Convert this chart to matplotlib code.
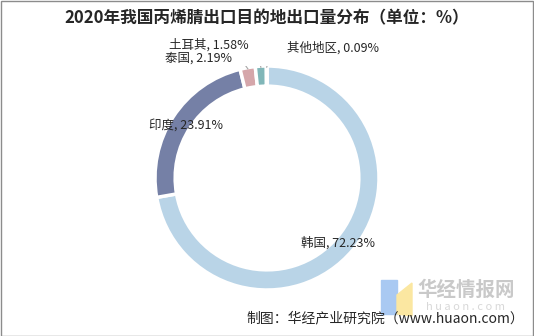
import numpy as np
import matplotlib.pyplot as plt
from matplotlib.patches import Rectangle, Polygon

plt.rcParams['font.family'] = ['Noto Sans CJK SC', 'DejaVu Sans']

# data
countries = ['韩国', '印度', '泰国', '土耳其', '其他地区']
shares = [72.23, 23.91, 2.19, 1.58, 0.09]
colors = ['#b9d4e7', '#7580a6', '#d5a6aa', '#80b6b8', '#c8c8c8']
title = '2020年我国丙烯腈出口目的地出口量分布（单位：%）'
source = '制图：华经产业研究院（www.huaon.com）'

W, H = 534, 336
fig = plt.figure(figsize=(W / 100, H / 100), dpi=100)

# pie axes: centre (267,178) px, radius 112 px
cx, cy, r = 267, 178, 112
ax = fig.add_axes([(cx - r) / W, (H - cy - r) / H, 2 * r / W, 2 * r / H])
wedges, _ = ax.pie(shares, colors=colors, startangle=90, counterclock=False,
                   radius=1.0, wedgeprops=dict(width=0.18, edgecolor='white', linewidth=2.5))
ax.set_xlim(-1, 1)
ax.set_ylim(-1, 1)
ax.set_aspect('equal')
ax.axis('off')

lab_kw = dict(fontsize=9, color='#262626')


def outer_point(w, rad=1.0):
    ang = np.deg2rad((w.theta1 + w.theta2) / 2)
    return rad * np.cos(ang), rad * np.sin(ang)


# labels (text positions in data units of the pie axes)
txt = [f'{c}, {v:.2f}%' for c, v in zip(countries, shares)]
ax.text(0.63, -0.58, txt[0], ha='center', va='center', **lab_kw)
ax.text(-0.72, 0.47, txt[1], ha='center', va='center', **lab_kw)

line_kw = dict(color='#a6a6a6', lw=0.8)
# 泰国
px, py = outer_point(wedges[2], 0.99)
ax.text(-0.31, 1.07, txt[2], ha='right', va='center', **lab_kw)
ax.plot([-0.29, -0.24, px], [1.07, 1.07, py], **line_kw)
# 土耳其
px, py = outer_point(wedges[3], 0.99)
ax.text(-0.16, 1.19, txt[3], ha='right', va='center', **lab_kw)
ax.plot([-0.14, -0.10, px], [1.19, 1.19, py], **line_kw)
# 其他地区
px, py = outer_point(wedges[4], 0.99)
ax.text(0.18, 1.16, txt[4], ha='left', va='center', **lab_kw)
ax.plot([0.14, 0.05, px], [1.16, 1.16, py], **line_kw)

# title
fig.text(0.5, 1 - 18 / H, title, ha='center', va='center', fontsize=12,
         fontweight='bold', color='#262626')

# watermark logo
fig.patches.append(Rectangle((381 / W, 1 - 314 / H), 16 / W, 34 / H,
                             transform=fig.transFigure, color='#a9c9f2', zorder=0))
fig.patches.append(Polygon([(397 / W, 1 - 295 / H), (412 / W, 1 - 283 / H),
                            (412 / W, 1 - 316 / H), (397 / W, 1 - 314 / H)],
                           closed=True, transform=fig.transFigure, color='#fbe7a1', zorder=0))
fig.text(466 / W, 1 - 290 / H, '华经情报网', ha='center', va='center', fontsize=14,
         fontweight='bold', color='#c9c9c9')
fig.text(466 / W, 1 - 307 / H, 'h u a o n . c o m', ha='center', va='center', fontsize=8,
         color='#d8d8d8')

# source
fig.text(524 / W, 1 - 318 / H, source, ha='right', va='center', fontsize=10, color='#262626')

# frame
fig.patches.append(Rectangle((0.5 / W, 0.5 / H), 1 - 1.5 / W, 1 - 1.5 / H, transform=fig.transFigure,
                             fill=False, edgecolor='#8c8c8c', lw=1))

fig.savefig('out.png', dpi=100)
